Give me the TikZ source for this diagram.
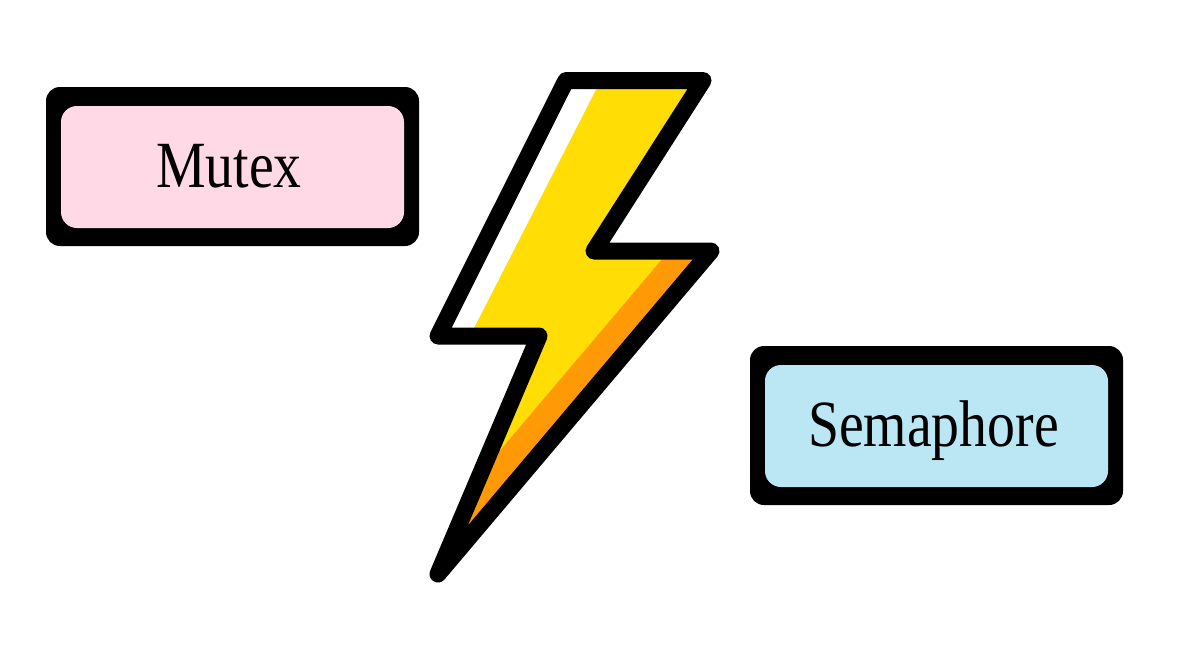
\documentclass[tikz,border=0pt]{standalone}
\usepackage{fontspec}
\newfontfamily\labelfont[FakeStretch=0.845]{Liberation Serif}
\definecolor{boltyellow}{HTML}{FFDD05}
\definecolor{boltorange}{HTML}{FF9A06}
\definecolor{mutexpink}{HTML}{FFD9E6}
\definecolor{semablue}{HTML}{BBE6F3}
\tikzset{
    frame/.style={fill=black,rounded corners=14pt},
    panel/.style={rounded corners=16pt},
    boxlabel/.style={anchor=base,inner sep=0pt,font=\labelfont\fontsize{66}{66}\selectfont},
    boltline/.style={draw=black,line width=17pt,line join=round,line cap=round}
}

\begin{document}
\begin{tikzpicture}[x=1pt,y=-1pt]
        \useasboundingbox (0,0) rectangle (1195,653);
        % --- Mutex ---
        \begin{scope}
            \fill[frame] (46,87) rectangle (419,246);
            \fill[panel,mutexpink] (61,106) rectangle (404,228);
            \node[boxlabel] (mutex) at (229,187) {Mutex};
        \end{scope}
        % --- Semaphore ---
        \begin{scope}[shift={(704,259)}]
            \fill[frame] (46,87) rectangle (419,246);
            \fill[panel,semablue] (61,106) rectangle (404,228);
            \node[boxlabel] (semaphore) at (229.5,187) {Semaphore};
        \end{scope}
        % --- Bolt ---
        \begin{scope}
            \fill[boltyellow] (601,80) -- (703,80) -- (594,251) -- (711,251) -- (438,574) -- (539,336) -- (470,336) -- cycle;
            \fill[boltorange] (669,251) -- (711,251) -- (438,574) -- (481,473) -- cycle;
            \draw[boltline] (566,80.5) -- (703,80.5) -- (594,251) -- (711,251) -- (438,574) -- (539,336) -- (438,336) -- cycle;
        \end{scope}
    \end{tikzpicture}
\end{document}
